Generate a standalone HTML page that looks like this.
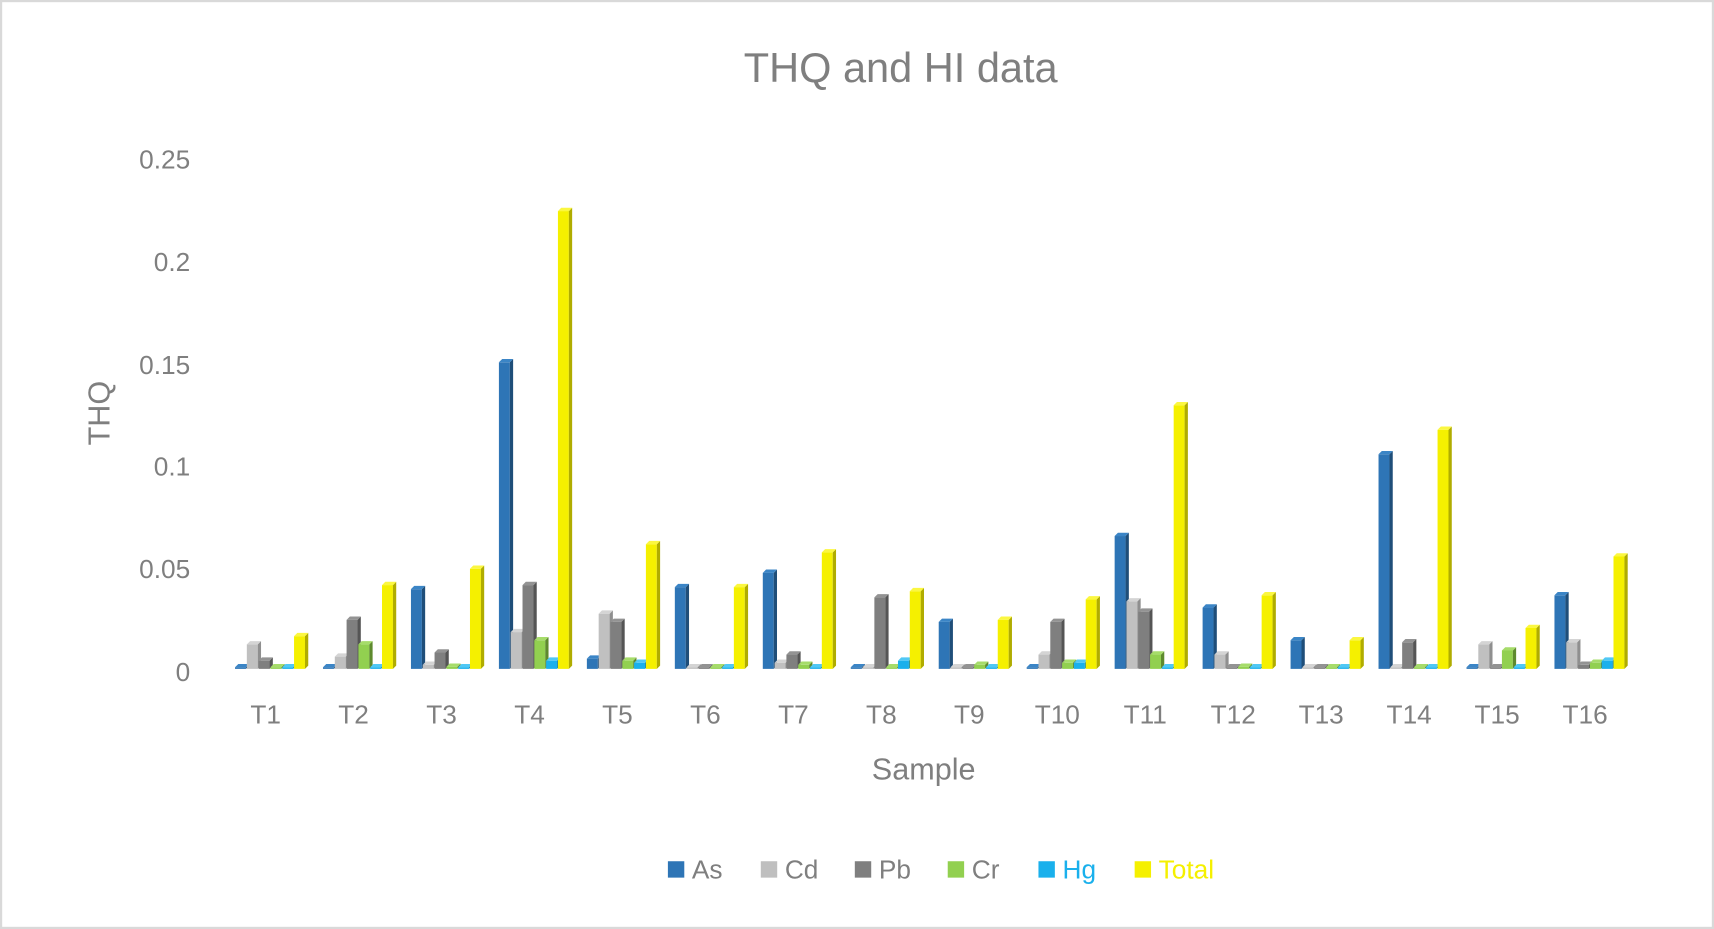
<!DOCTYPE html>
<html><head><meta charset="utf-8"><style>
html,body{margin:0;padding:0;background:#fff;}
svg{display:block;}
text{font-family:"Liberation Sans",sans-serif;fill:#7f7f7f;}
</style></head><body>
<svg id="c" width="1714" height="929" viewBox="0 0 1568 850" preserveAspectRatio="none" xmlns="http://www.w3.org/2000/svg">
<rect x="1" y="1" width="1566" height="848" fill="#fff" stroke="#d9d9d9" stroke-width="2"/>
<text x="824" y="75" font-size="38" text-anchor="middle">THQ and HI data</text>
<g font-size="24" text-anchor="end">
<text x="174" y="154">0.25</text>
<text x="174" y="248">0.2</text>
<text x="174" y="342">0.15</text>
<text x="174" y="435">0.1</text>
<text x="174" y="529">0.05</text>
<text x="174" y="623">0</text>
</g>
<text transform="translate(100,378) rotate(-90)" font-size="28" text-anchor="middle">THQ</text>
<text x="845" y="713" font-size="28" text-anchor="middle">Sample</text>
<g id="bars"></g>
<g id="xl" font-size="24" text-anchor="middle"></g>
<g font-size="24">
<rect x="611" y="788" width="15" height="15" fill="#2e75b6"/><text x="633" y="804">As</text>
<rect x="696" y="788" width="15" height="15" fill="#bfbfbf"/><text x="718" y="804">Cd</text>
<rect x="782" y="788" width="15" height="15" fill="#7f7f7f"/><text x="804" y="804">Pb</text>
<rect x="867" y="788" width="15" height="15" fill="#92d050"/><text x="889" y="804">Cr</text>
<rect x="950" y="788" width="15" height="15" fill="#1ab0ec"/><text x="972" y="804" style="fill:#1ab0ec">Hg</text>
<rect x="1038" y="788" width="15" height="15" fill="#f5f000"/><text x="1060" y="804" style="fill:#f5f000">Total</text>
</g>
</svg>
<script>
var d=[[0,.012,.004,0,0,.016],[0,.006,.024,.012,0,.041],[.039,.002,.008,.001,0,.049],[.15,.018,.041,.014,.004,.224],[.005,.027,.023,.004,.003,.061],[.04,0,0,0,0,.04],[.047,.003,.007,.002,0,.057],[0,0,.035,0,.004,.038],[.023,0,0,.002,0,.024],[0,.007,.023,.003,.003,.034],[.065,.033,.028,.007,0,.129],[.03,.007,0,.001,0,.036],[.014,0,0,0,0,.014],[.105,0,.013,0,0,.117],[0,.012,0,.009,0,.02],[.036,.013,.002,.003,.004,.055]];
var f=["#2e75b6","#c0c0c0","#7f7f7f","#92d050","#1ab0ec","#f5f000"];
var s=["#1f4e79","#8f8f8f","#555555","#5e8a2e","#0f7fae","#b0ac00"];
var t=["#3b85c6","#d4d4d4","#939393","#a6dc6a","#50c8f5","#fbf740"];
var b="",xl="",base=612,k=1870,ns="http://www.w3.org/2000/svg";
for(var i=0;i<16;i++){var cx=243+i*80.47;
for(var j=0;j<6;j++){var v=d[i][j];var h=Math.max(v*k,1.5);var x=cx-28+j*10.8;var y=base-h;var w=10;
b+='<rect x="'+x+'" y="'+y+'" width="'+w+'" height="'+h+'" fill="'+f[j]+'"/>';
b+='<polygon points="'+(x+w)+','+y+' '+(x+w+3)+','+(y-3)+' '+(x+w+3)+','+(base-3)+' '+(x+w)+','+base+'" fill="'+s[j]+'"/>';
b+='<polygon points="'+x+','+y+' '+(x+3)+','+(y-3)+' '+(x+w+3)+','+(y-3)+' '+(x+w)+','+y+'" fill="'+t[j]+'"/>';}
xl+='<text x="'+cx+'" y="662">T'+(i+1)+'</text>';}
document.getElementById("bars").innerHTML=b;
document.getElementById("xl").innerHTML=xl;
</script>
</body></html>
